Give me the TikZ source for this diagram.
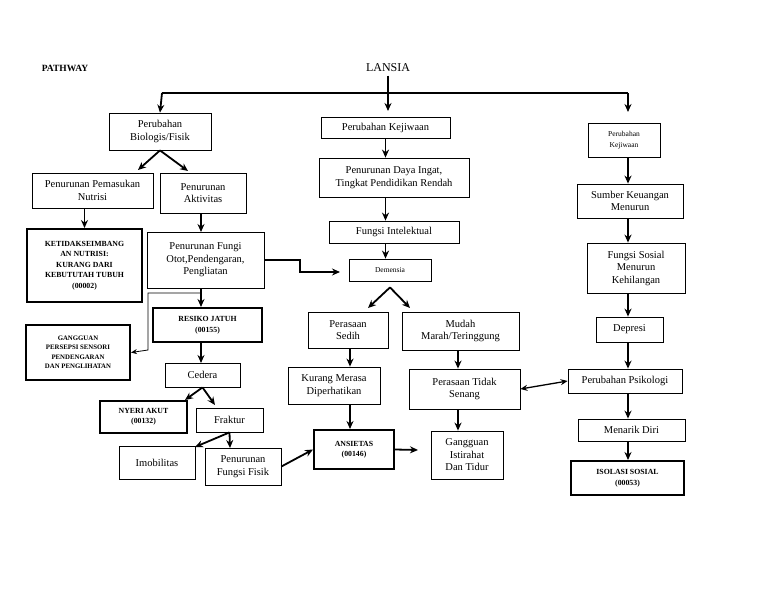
\documentclass[tikz,border=0pt]{standalone}
\usepackage{fontspec}
\setmainfont{Liberation Serif}
\usetikzlibrary{arrows.meta}
\begin{document}
\begin{tikzpicture}[x=1pt,y=-1pt,
 bx/.style={draw,line width=0.8pt,align=center,inner sep=1pt,font=\fontsize{10.5}{12.5}\selectfont},
 tb/.style={bx,line width=2pt,font=\bfseries\fontsize{7.8}{10.5}\selectfont},
 ar/.style={line width=1.8pt,-{Stealth[length=8pt,width=7pt]}}]
\useasboundingbox (0,0) rectangle (768,594);
\node[font=\bfseries\fontsize{9.5}{11}\selectfont] (pw) at (65,68) {PATHWAY};
\node[font=\fontsize{12}{14}\selectfont] (lansia) at (388,68) {LANSIA};
% left
\node[bx,minimum width=102,minimum height=37] (bio) at (160,131.5) {Perubahan\\Biologis/Fisik};
\node[bx,minimum width=121,minimum height=35] (nut) at (92.5,190.5) {Penurunan Pemasukan\\Nutrisi};
\node[bx,minimum width=86,minimum height=40] (akt) at (203,193) {Penurunan\\Aktivitas};
\node[tb,minimum width=115,minimum height=73] (ket) at (84.5,265.5) {KETIDAKSEIMBANG\\AN NUTRISI:\\KURANG DARI\\KEBUTUTAH TUBUH\\(00002)};
\node[bx,minimum width=117,minimum height=56] (otot) at (205.5,260) {Penurunan Fungi\\Otot,Pendengaran,\\Pengliatan};
\node[tb,minimum width=109,minimum height=34] (res) at (207.5,325) {RESIKO JATUH\\(00155)};
\node[tb,minimum width=104,minimum height=55,font=\bfseries\fontsize{6.8}{9.5}\selectfont] (gsp) at (78,352.5) {GANGGUAN\\PERSEPSI SENSORI\\PENDENGARAN\\DAN PENGLIHATAN};
\node[bx,minimum width=75,minimum height=24] (ced) at (202.5,375) {Cedera};
\node[tb,minimum width=87,minimum height=32] (nye) at (143.5,417) {NYERI AKUT\\(00132)};
\node[bx,minimum width=67,minimum height=24] (fra) at (229.5,420) {Fraktur};
\node[bx,minimum width=76,minimum height=33] (imo) at (157,462.5) {Imobilitas};
\node[bx,minimum width=76,minimum height=37] (ffi) at (243,466.5) {Penurunan\\Fungsi Fisik};
% middle
\node[bx,minimum width=129,minimum height=21] (kej) at (385.5,127.5) {Perubahan Kejiwaan};
\node[bx,minimum width=150,minimum height=39] (day) at (394,177.5) {Penurunan Daya Ingat,\\Tingkat Pendidikan Rendah};
\node[bx,minimum width=130,minimum height=22] (int) at (394,232) {Fungsi Intelektual};
\node[bx,minimum width=82,minimum height=22,font=\fontsize{7.5}{9}\selectfont] (dem) at (390,270) {Demensia};
\node[bx,minimum width=80,minimum height=36] (sed) at (348,330) {Perasaan\\Sedih};
\node[bx,minimum width=117,minimum height=38] (mar) at (460.5,331) {Mudah\\Marah/Teringgung};
\node[bx,minimum width=92,minimum height=37] (kur) at (334,385.5) {Kurang Merasa\\Diperhatikan};
\node[bx,minimum width=111,minimum height=40] (tid) at (464.5,389) {Perasaan Tidak\\Senang};
\node[tb,minimum width=80,minimum height=39] (ans) at (354,449.5) {ANSIETAS\\(00146)};
\node[bx,minimum width=72,minimum height=48] (gan) at (467,455) {Gangguan\\Istirahat\\Dan Tidur};
% right
\node[bx,minimum width=72,minimum height=34,font=\fontsize{7.5}{11}\selectfont] (kej2) at (624,140) {Perubahan\\Kejiwaan};
\node[bx,minimum width=106,minimum height=34] (sum) at (630,201) {Sumber Keuangan\\Menurun};
\node[bx,minimum width=98,minimum height=50] (sos) at (636,268) {Fungsi Sosial\\Menurun\\Kehilangan};
\node[bx,minimum width=67,minimum height=25] (dep) at (629.5,329.5) {Depresi};
\node[bx,minimum width=114,minimum height=24] (psi) at (625,381) {Perubahan Psikologi};
\node[bx,minimum width=107,minimum height=22] (men) at (631.5,430) {Menarik Diri};
\node[tb,minimum width=113,minimum height=34] (iso) at (627.5,478) {ISOLASI SOSIAL\\(00053)};
% connectors
\coordinate (tl) at (162,93); \coordinate (tr) at (628,93);
\draw[line width=1.8pt] (tl) -- (tr);
\draw[ar] (tl) -- (bio.north);
\draw[ar] (lansia.south) -- (388,111);
\draw[ar] (tr) -- (628,112);
\draw[ar] (bio.south) -- (138,170);
\draw[ar] (bio.south) -- (188,171);
\draw[ar] (nut.south -| ket.north) -- (ket.north);
\draw[ar] (akt.south -| 201,0) -- (201,232);
\draw[ar] (201,288) -- (res.north -| 201,0);
\draw[line width=0.8pt,-{Stealth[length=6pt,width=5pt]}] (201,293) -- (148,293) -- (148,350) -- (gsp.east);
\draw[ar] (otot.east) -- (300,260) -- (300,272) -- (340,272);
\draw[ar] (201,342) -- (201,363);
\draw[ar] (ced.south) -- (185,400);
\draw[ar] (ced.south) -- (215,405);
\draw[ar] (fra.south) -- (195,447);
\draw[ar] (fra.south) -- (230,448);
\draw[ar] (ffi.east) -- (ans.west);
\draw[ar] (dem.south) ++(0,6) -- (368,308);
\draw[ar] (dem.south) ++(0,6) -- (410,308);
\draw[ar] (kej.south) -- (day.north -| kej.south);
\draw[ar] (day.south -| kej.south) -- (int.north -| kej.south);
\draw[ar] (int.south -| kej.south) -- (dem.north -| kej.south);
\draw[ar] (sed.south -| 350,0) -- (kur.north -| 350,0);
\draw[ar] (kur.south -| 350,0) -- (ans.north -| 350,0);
\draw[ar] (mar.south -| 458,0) -- (tid.north -| 458,0);
\draw[ar] (tid.south -| 458,0) -- (gan.north -| 458,0);
\draw[ar] (ans.east) -- (418,450);
\draw[line width=1.3pt,{Stealth[length=7pt,width=6pt]}-{Stealth[length=7pt,width=6pt]}] (tid.east) -- (psi.west);
\draw[ar] (kej2.south -| 628,0) -- (sum.north -| 628,0);
\draw[ar] (sum.south -| 628,0) -- (sos.north -| 628,0);
\draw[ar] (sos.south -| 628,0) -- (dep.north -| 628,0);
\draw[ar] (dep.south -| 628,0) -- (psi.north -| 628,0);
\draw[ar] (psi.south -| 628,0) -- (men.north -| 628,0);
\draw[ar] (men.south -| 628,0) -- (iso.north -| 628,0);
\end{tikzpicture}
\end{document}
